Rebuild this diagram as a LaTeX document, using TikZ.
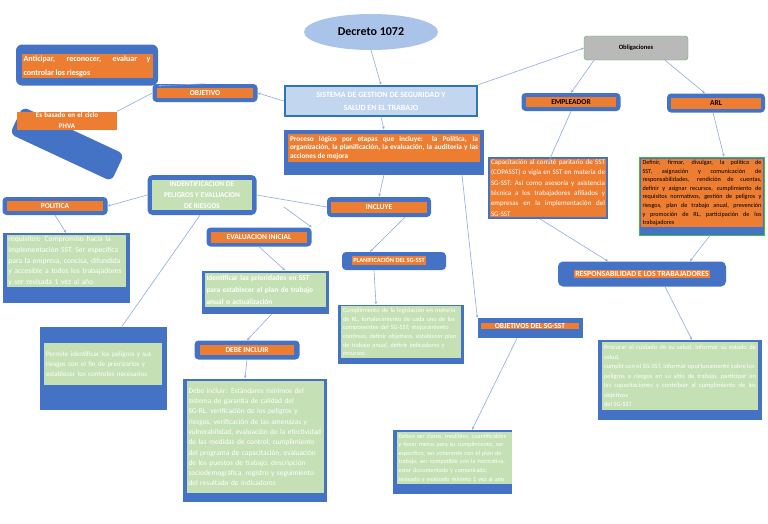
\documentclass[tikz,border=0pt]{standalone}
\usepackage{fontspec}
\setmainfont{Carlito}
\usetikzlibrary{shapes.geometric,arrows.meta}
\definecolor{bO}{HTML}{4472C4}
\definecolor{bD}{HTML}{2E75B6}
\definecolor{org}{HTML}{ED7D31}
\definecolor{grn}{HTML}{C5E0B4}
\definecolor{lb}{HTML}{A9C4E8}
\definecolor{ln}{HTML}{8FAADC}
\hyphenpenalty=10000 \exhyphenpenalty=10000
\begin{document}
\begin{tikzpicture}[x=1pt,y=-1pt,
 ob/.style={fill=bO,draw=none,inner sep=0},
 obr/.style={ob,rounded corners=4},
 orn/.style={fill=org,inner sep=1.5,text=white,font=\bfseries\fontsize{7.5}{8.5}\selectfont,align=center},
 gtx/.style={fill=grn,inner sep=2,text=white,align=justify},
 ar/.style={draw=ln,line width=0.6,-{Stealth[length=3pt,width=2.5pt]}},
 pl/.style={draw=ln,line width=0.6}]
\useasboundingbox (0,0) rectangle (768,523);
\fill[white] (0,0) rectangle (768,523);
% Decreto
\node[ellipse,fill=lb,minimum width=134,minimum height=36,font=\bfseries\fontsize{12}{14}\selectfont] (dec) at (371,32) {Decreto 1072};
% Obligaciones
\node[fill=gray!55,draw=green!40!gray,rounded corners=3,minimum width=104,minimum height=24,font=\bfseries\fontsize{6.5}{7}\selectfont] (obl) at (636,48) {Obligaciones};
% SISTEMA
\node[fill=lb!70,draw=bD,line width=2.5,minimum width=192,minimum height=30,align=center,text=white,font=\bfseries\fontsize{8}{13}\selectfont] (sis) at (381,101) {SISTEMA DE GESTION DE SEGURIDAD Y\\SALUD EN EL TRABAJO};
% OBJETIVO
\node[obr,minimum width=105,minimum height=18] (obj) at (205,93) {};
\node[orn,minimum width=96,minimum height=10,inner sep=0] at (205,93) {OBJETIVO};
% Anticipar
\node[obr,rounded corners=6,minimum width=142,minimum height=41] (ant) at (87,65) {};
\node[fill=org,text=white,font=\bfseries\fontsize{8}{14}\selectfont,text width=127,inner sep=2,align=justify] at (87,66) {Anticipar, reconocer, evaluar y controlar los riesgos};
% Es basado
\node[obr,rounded corners=6,rotate=-25,minimum width=112,minimum height=30] (tilt) at (67,144) {};
\node[fill=org,text=white,font=\bfseries\fontsize{7}{11}\selectfont,text width=97,align=center,inner sep=1.5] (phva) at (67,121) {Es basado en el ciclo\\PHVA};
% Proceso
\node[ob,minimum width=200,minimum height=45] (pro) at (384,152) {};
\node[fill=org,text=white,font=\bfseries\fontsize{7.3}{8.4}\selectfont,text width=188,inner sep=2,align=justify] at (384,148) {Proceso lógico por etapas que incluye: la Política, la organización, la planificación, la evaluación, la auditoría y las acciones de mejora};
% Indentificacion
\node[obr,rounded corners=5,minimum width=109,minimum height=40] (ind) at (202,195) {};
\node[fill=grn,text=white,font=\bfseries\fontsize{7.3}{11}\selectfont,minimum width=100,align=center,inner sep=1.5] at (202,195) {INDENTIFICACION DE\\PELIGROS Y EVALUACION\\DE RIESGOS};
% Politica
\node[obr,minimum width=105,minimum height=18] (pol) at (55,206) {};
\node[orn,minimum width=96,minimum height=10,inner sep=0] at (55,206) {POLITICA};
% Incluye
\node[obr,minimum width=104,minimum height=20] (inc) at (379,207) {};
\node[orn,minimum width=96,minimum height=11,inner sep=0] at (379,207) {INCLUYE};
% Empleador
\node[obr,minimum width=99,minimum height=18] (emp) at (571,102) {};
\node[orn,minimum width=90,minimum height=10,inner sep=0,text=black] at (571,102) {EMPLEADOR};
% ARL
\node[obr,minimum width=98,minimum height=19] (arl) at (716,103) {};
\node[orn,minimum width=90,minimum height=11,inner sep=0,text=black] at (716,103) {ARL};
% Capacitacion
\node[fill=org,draw=bO,line width=1.5,text=white,font=\fontsize{7}{10.3}\selectfont,text width=114,inner sep=2,align=justify] (cap) at (548,188) {Capacitación al comité paritario de SST (COPASST) o vigía en SST en materia de SG-SST: Así como asesoría y asistencia técnica a los trabajadores afiliados y empresas en la implementación del SG-SST};
% Definir
\node[ob,draw=green!50!gray,line width=0.8,minimum width=125,minimum height=78] (def) at (702,196) {};
\node[fill=org,text=black,font=\fontsize{6.2}{8.6}\selectfont,text width=119,inner sep=1.5,align=justify] at (702,193) {Definir, firmar, divulgar, la política de SST, asignación y comunicación de responsabilidades, rendición de cuentas, definir y asignar recursos, cumplimiento de requisitos normativos, gestión de peligros y riesgos, plan de trabajo anual, prevención y promoción de RL, participación de los trabajadores};
% Requisitos
\node[ob,minimum width=127,minimum height=70] (req) at (66,268) {};
\node[gtx,text width=115,minimum height=51,align=left,font=\fontsize{7.6}{10.6}\selectfont] at (66,261) {requisitos: Compromiso hacia la implementación SST, Ser específica para la empresa, concisa, difundida y accesible a todos los trabajadores y ser revisada 1 vez al año};
% Evaluacion inicial
\node[obr,minimum width=105,minimum height=19] (evi) at (259,237) {};
\node[orn,minimum width=96,minimum height=11,inner sep=0] at (259,237) {EVALUACION INICIAL};
% Identificar
\node[ob,minimum width=127,minimum height=43] (ide) at (265,292) {};
\node[fill=grn,text=white,font=\bfseries\fontsize{7.4}{12}\selectfont,text width=117,inner sep=2,align=left] at (265,290) {Identificar las prioridades en SST para establecer el plan de trabajo anual o actualización};
% Permite
\node[ob,minimum width=127,minimum height=83] (per) at (103,368) {};
\node[gtx,text width=114,minimum height=42,align=left,font=\fontsize{7}{10.3}\selectfont] at (103,364) {Permite identificar los peligros y sus riesgos con el fin de priorizarlos y establecer los controles necesarios};
% Debe incluir
\node[obr,minimum width=105,minimum height=19] (dbi) at (247,350) {};
\node[orn,minimum width=94,minimum height=10,inner sep=0] at (247,350) {DEBE INCLUIR};
% Debe incluir text
\node[ob,minimum width=144,minimum height=123] (dbt) at (255,440) {};
\node[gtx,text width=133,minimum height=112,align=left,font=\fontsize{7.4}{10.3}\selectfont] at (255,437) {Debe incluir: Estándares mínimos del sistema de garantía de calidad del SG-RL, verificación de los peligros y riesgos, verificación de las amenazas y vulnerabilidad, evaluación de la efectividad de las medidas de control, cumplimiento del programa de capacitación, evaluación de los puestos de trabajo, descripción sociodemográfica, registro y seguimiento del resultado de indicadores};
% Planificacion
\node[obr,minimum width=104,minimum height=18] (pla) at (394,261) {};
\node[fill=org,text=white,font=\bfseries\fontsize{6.3}{7}\selectfont,inner sep=1,minimum height=9] at (389,260) {PLANIFICACIÓN DEL SG-SST};
% Cumplimiento
\node[ob,minimum width=126,minimum height=59] (cum) at (401,334) {};
\node[gtx,text width=116,minimum height=52,align=left,font=\fontsize{6.4}{8.6}\selectfont] at (401,332) {Cumplimiento de la legislación en materia de RL, fortalecimiento de cada uno de los componentes del SG-SST, mejoramiento continuo, definir objetivos, establecer plan de trabajo anual, definir indicadores y recursos};
% Objetivos SG-SST
\node[ob,minimum width=105,minimum height=20] (ojs) at (530,328) {};
\node[fill=org,text=white,font=\bfseries\fontsize{7.5}{8}\selectfont,inner sep=1,minimum width=98,align=left] at (530,326) {OBJETIVOS DEL SG-SST};
% Deben
\node[ob,minimum width=119,minimum height=64] (dbn) at (452,462) {};
\node[gtx,text width=111,minimum height=52,align=left,font=\fontsize{6.2}{8.6}\selectfont] at (454,458) {Deben ser claros, medibles, cuantificables y tener metas para su cumplimiento, ser específico, ser coherente con el plan de trabajo, ser compatible con la normativa, estar documentado y comunicado, revisado y evaluado mínimo 1 vez al año};
% Responsabilidad
\node[obr,rounded corners=5,minimum width=168,minimum height=25] (res) at (642,274) {};
\node[fill=org,text=white,font=\bfseries\fontsize{7.8}{8}\selectfont,inner sep=1] at (642,274) {RESPONSABILIDAD E LOS TRABAJADORES};
% Procurar
\node[ob,minimum width=164,minimum height=80] (prc) at (680,380) {};
\node[gtx,text width=152,minimum height=68,align=justify,font=\fontsize{6.5}{9.5}\selectfont] at (680,376) {Procurar el cuidado de su salud, informar su estado de salud,\\cumplir con el SG-SST, informar oportunamente sobre los\\peligros o riesgos en su sitio de trabajo, participar en las capacitaciones y contribuir al cumplimiento de los objetivos\\del SG-SST};
% connectors
\draw[ar] (dec.south) -- (sis.north);
\draw[ar] (sis.north east) -- (obl.west);
\draw[ar] (sis.west) -- (obj.east);
\draw[ar] (obj.north) -- (ant.south east);
\draw[pl] (obj.west) -- (phva.north east);
\draw[ar] (sis.south) -- (pro.north);
\draw[ar] (pro.south) -- (inc.north);
\draw[ar] ([xshift=78]pro.south) -- (ojs.north west);
\draw[pl] (inc.west) -- (ind.east);
\draw[ar] (ind.west) -- (pol.east);
\draw[ar] (pol.south) -- (req.north);
\draw[pl] ([xshift=-2]ind.south) -- ([xshift=19]per.north);
\coordinate (br) at (284,207);
\draw[ar] (br) -- (evi.north east);
\draw[ar] ([xshift=26]inc.south) -- ([xshift=-24]pla.north);
\draw[ar] (evi.south) -- ([xshift=20]ide.north);
\draw[ar] ([xshift=7]ide.south) -- (dbi.north);
\draw[ar] (dbi.south) -- ([xshift=-10]dbt.north);
\draw[ar] ([xshift=-20]pla.south) -- ([xshift=-25]cum.north);
\draw[ar] ([xshift=-13]ojs.south) -- ([xshift=20]dbn.north);
\draw[ar] ([xshift=-42]obl.south) -- (emp.north);
\draw[ar] ([xshift=29]obl.south) -- ([xshift=-11]arl.north);
\draw[ar] (emp.south) -- ([yshift=-6]cap.north);
\draw[ar] ([xshift=-3]arl.south) -- ([xshift=22]def.north);
\draw[ar] ([xshift=-8]cap.south) -- ([xshift=-34]res.north);
\draw[ar] ([xshift=8]def.south) -- ([xshift=48]res.north);
\draw[ar] ([xshift=23]res.south) -- ([xshift=12]prc.north);
\end{tikzpicture}
\end{document}
